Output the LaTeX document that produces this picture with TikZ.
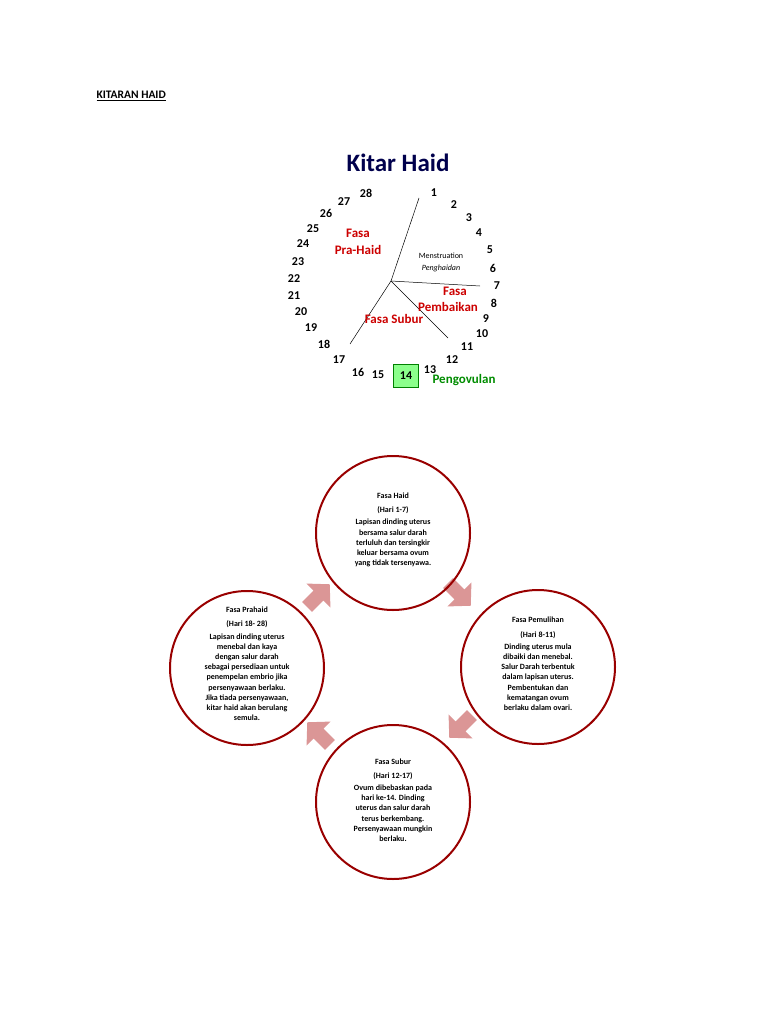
\documentclass[tikz,border=0pt]{standalone}
\usepackage{fontspec}
\setmainfont{Carlito}
\begin{document}
\begin{tikzpicture}[x=1pt,y=-1pt,
 phase/.style={circle,draw=red!60!black,line width=2pt,minimum size=154pt,inner sep=0pt},
 ptext/.style={align=center,font=\fontsize{8}{10.2}\selectfont\bfseries},
 num/.style={font=\fontsize{12}{12}\selectfont\bfseries},
 redl/.style={text=red!80!black,font=\fontsize{13}{14}\selectfont\bfseries},
 barrow/.style={fill=red!30!gray!40!pink,draw=none}]
\useasboundingbox (0,0) rectangle (768,1024);
\node[anchor=west,font=\fontsize{11.5}{12}\selectfont\bfseries] (title) at (93,96) {\underline{KITARAN HAID}};
% clock
\node[font=\fontsize{25}{25}\selectfont\bfseries,text=blue!30!black] (kh) at (398,163) {Kitar Haid};
\coordinate (c) at (391,281);
\coordinate (l1) at (419,198);\coordinate (l2) at (480,286);
\coordinate (l3) at (448,338);\coordinate (l4) at (350,344);
\foreach \p in {l1,l2,l3,l4}{\draw[line width=0.5pt] (c) -- (\p);}
\foreach \n/\x/\y in {1/434/193,2/454/205,3/469/218,4/479/233,5/490/250,6/493/268,7/497/286,8/494/303,9/486/319,10/482/334,11/467/347,12/452/360,13/430/370,15/378/375,16/358/372,17/339/360,18/324/344,19/311/328,20/301/312,21/294/296,22/294/279,23/298/262,24/303/244,25/313/229,26/326/213,27/344/202,28/366/193}
 {\node[num] (n\n) at (\x,\y) {\n};}
\node[num,fill=green!45!white,draw=green!50!black,minimum width=25pt,minimum height=23pt] (n14) at (406,376) {14};
\node[anchor=west,text=green!55!black,font=\fontsize{13}{13}\selectfont\bfseries] (peng) at (429,380) {Pengovulan};
\node[redl] (pra1) at (358,233) {Fasa};
\node[redl] (pra2) at (358,250) {Pra-Haid};
\node[font=\fontsize{8}{8}\selectfont] (men) at (441,256) {Menstruation};
\node[font=\fontsize{8}{8}\selectfont\itshape] (peh) at (441,268) {Penghaidan};
\node[redl] (pb1) at (455,291) {Fasa};
\node[redl] (pb2) at (448,307) {Pembaikan};
\node[redl] (fs) at (394,319) {Fasa Subur};
% block arrows
\foreach \x/\y/\a/\nm in {317/597/45/ar1,458/593/-45/ar2,462/725/-135/ar3,320/735/135/ar4}{
 \begin{scope}[shift={(\x,\y)},rotate=\a]
 \fill[barrow] (-14,-7) -- (2,-7) -- (2,-17) -- (18,0) -- (2,17) -- (2,7) -- (-14,7) -- cycle;
 \coordinate (\nm) at (0,0);
 \end{scope}}
% circles
\node[phase] (haid) at (393,533) {};
\node[ptext] at (393,530) {Fasa Haid\\[4pt](Hari 1-7)\\[2pt]Lapisan dinding uterus\\bersama salur darah\\terluluh dan tersingkir\\keluar bersama ovum\\yang tidak tersenyawa.};
\node[phase] (pem) at (538,667) {};
\node[ptext] at (538,664) {Fasa Pemulihan\\[4pt](Hari 8-11)\\[2pt]Dinding uterus mula\\dibaiki dan menebal.\\Salur Darah terbentuk\\dalam lapisan uterus.\\Pembentukan dan\\kematangan ovum\\berlaku dalam ovari.};
\node[phase] (sub) at (393,802) {};
\node[ptext] at (393,800) {Fasa Subur\\[4pt](Hari 12-17)\\[2pt]Ovum dibebaskan pada\\hari ke-14. Dinding\\uterus dan salur darah\\terus berkembang.\\Persenyawaan mungkin\\berlaku.};
\node[phase] (pra) at (247,668) {};
\node[ptext] at (247,664) {Fasa Prahaid\\[4pt](Hari 18- 28)\\[2pt]Lapisan dinding uterus\\menebal dan kaya\\dengan salur darah\\sebagai persediaan untuk\\penempelan embrio jika\\persenyawaan berlaku.\\Jika tiada persenyawaan,\\kitar haid akan berulang\\semula.};
\end{tikzpicture}
\end{document}
